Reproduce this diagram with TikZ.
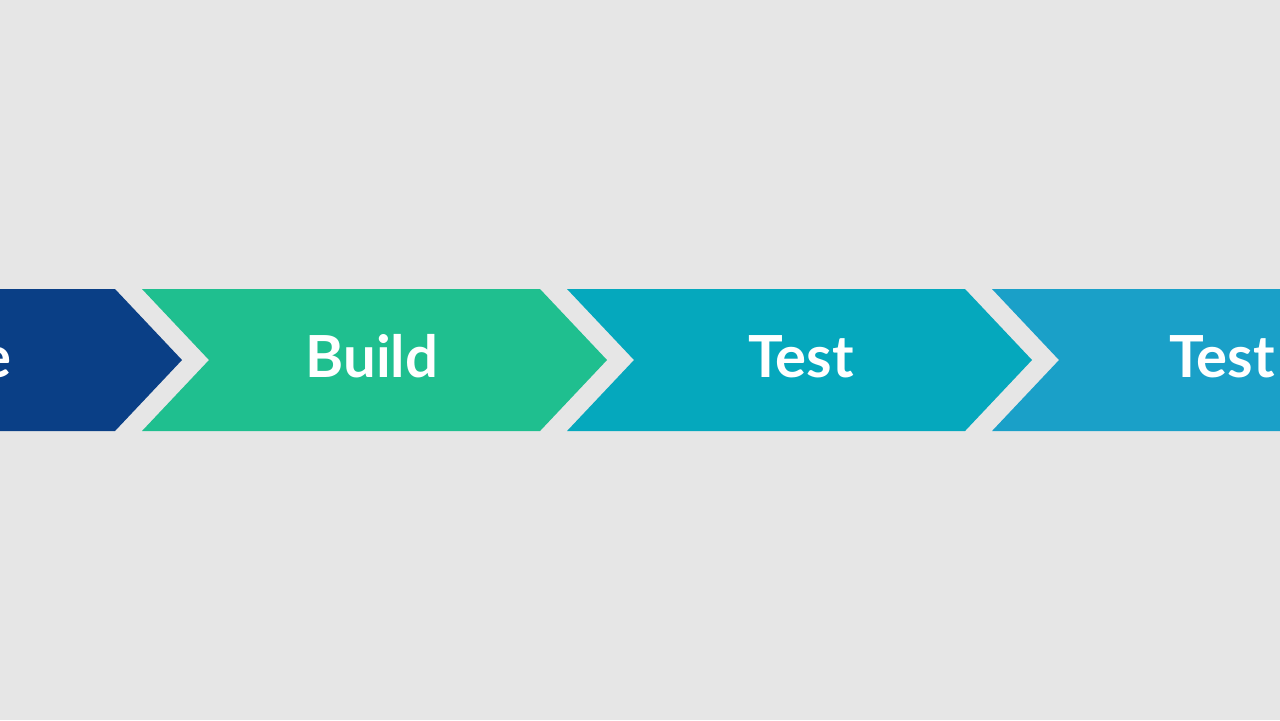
\documentclass[tikz,border=0pt]{standalone}
\usepackage{fontspec}
\setmainfont{Lato}
\definecolor{bggray}{HTML}{E6E6E6}
\definecolor{stepblue}{HTML}{0A3F86}
\definecolor{stepgreen}{HTML}{1FBF8F}
\definecolor{stepteal}{HTML}{05A8BD}
\definecolor{stepsky}{HTML}{1AA0C8}
\tikzset{
  steplabel/.style={text=white, font=\fontsize{16.5}{19}\selectfont\bfseries, anchor=base}
}

\begin{document}
\begin{tikzpicture}[x=0.01cm, y=-0.01cm]
  \useasboundingbox (0,0) rectangle (1280,720);
  \clip (0,0) rectangle (1280,720);
  \fill[bggray] (0,0) rectangle (1280,720);
  \fill[stepblue] (-20,289) -- (115,289) -- (182,360) -- (115,431) -- (-20,431) -- cycle;
  \fill[stepgreen] (142,289) -- (540,289) -- (607,360) -- (540,431)
    -- (142,431) -- (209,360) -- cycle;
  \fill[stepteal] (567,289) -- (965,289) -- (1032,360) -- (965,431)
    -- (567,431) -- (634,360) -- cycle;
  \fill[stepsky] (992,289) -- (1300,289) -- (1300,431)
    -- (992,431) -- (1059,360) -- cycle;
  \node[steplabel, anchor=base east, inner xsep=0pt] (code) at (12,377) {e};
  \node[steplabel] (build) at (372,377) {Build};
  \node[steplabel] (test) at (801,377) {Test};
  \node[steplabel] (test2) at (1222,377) {Test};
\end{tikzpicture}
\end{document}
